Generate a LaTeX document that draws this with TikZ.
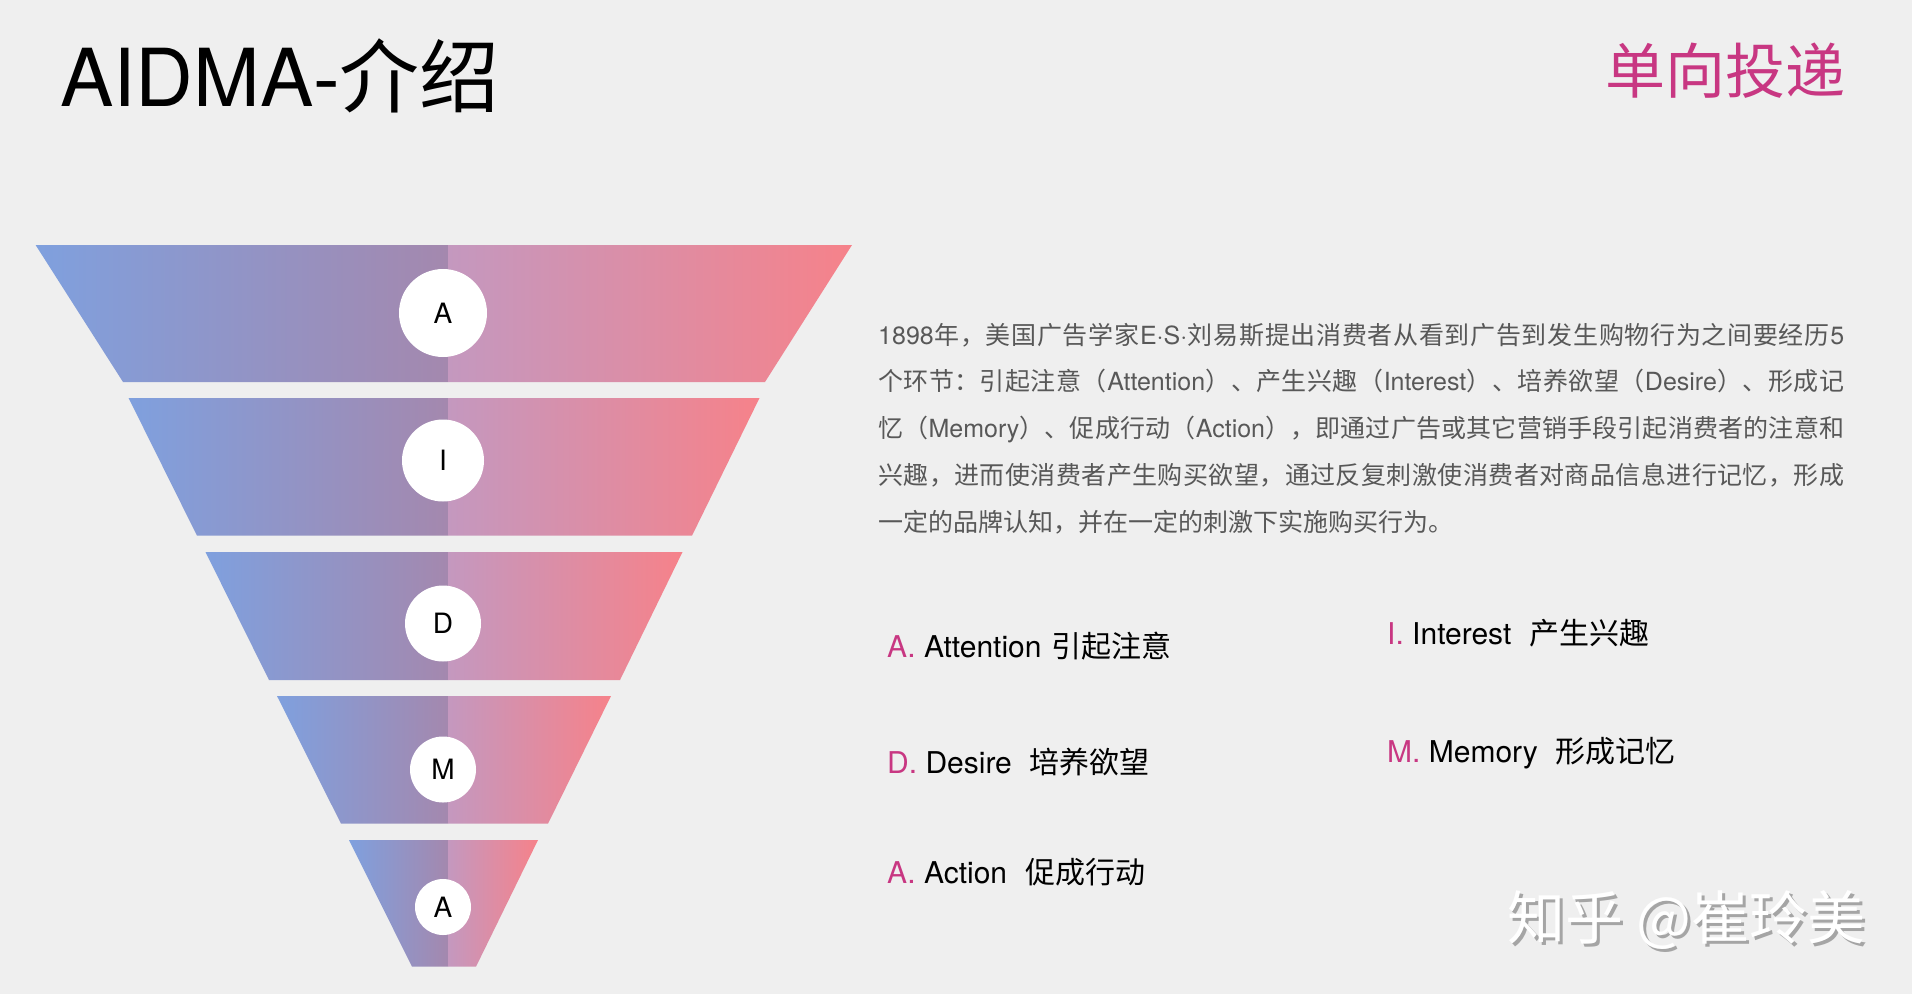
\documentclass[tikz,border=0pt]{standalone}
\usepackage{fontspec}
\setmainfont{TeX Gyre Heros}
\newfontfamily\cjk{Noto Sans CJK SC}
\newfontfamily\lat{TeX Gyre Heros}
\definecolor{bg}{RGB}{239,239,239}
\definecolor{bluel}{RGB}{127,160,222}
\definecolor{mauved}{RGB}{164,136,174}
\definecolor{mauvel}{RGB}{196,152,191}
\definecolor{coral}{RGB}{246,130,138}
\definecolor{accent}{RGB}{200,55,130}
\definecolor{paragray}{RGB}{88,88,88}
\definecolor{shadowgray}{RGB}{165,165,165}
\makeatletter
\def\spr@end{\spr@end}
\def\spreadchars#1{\spr@#1\spr@end}
\def\spr@#1{\ifx\spr@end#1\else#1\hskip0pt plus 1fil\expandafter\spr@\fi}
\makeatother
\newcommand{\funnelband}[6]{%
  \shade[left color=bluel,right color=mauved] (#3,#1) -- (448,#1) -- (448,#2) -- (#5,#2) -- cycle;
  \shade[left color=mauvel,right color=coral] (448,#1) -- (#4,#1) -- (#6,#2) -- (448,#2) -- cycle;}
\tikzset{
  circ/.style={circle,fill=white,inner sep=0pt,font=\fontsize{28}{28}\selectfont},
  paraline/.style={anchor=base west,inner sep=0pt,text=paragray,font=\cjk\fontsize{25}{30}\selectfont},
  lbl/.style={anchor=base west,inner sep=0pt,text=black,font=\fontsize{30}{30}\selectfont},
  wmark/.style={anchor=base west,inner sep=0pt,font=\cjk\fontsize{58}{58}\selectfont}
}
\begin{document}
\begin{tikzpicture}[x=1pt,y=-1pt]
\useasboundingbox (0,0) rectangle (1912,994);
\fill[bg] (0,0) rectangle (1912,994);
% title
\node[anchor=base west,inner sep=0pt,font=\fontsize{80}{80}\selectfont] (title) at (60,106) {AIDMA-{\cjk 介绍}};
\node[anchor=base east,inner sep=0pt,text=accent,font=\cjk\fontsize{60}{60}\selectfont] (sub) at (1846,93) {单向投递};
% funnel
\funnelband{245}{382}{35.6}{852}{123}{765}
\funnelband{398}{535.7}{128.6}{759.5}{197}{692}
\funnelband{552}{680}{205.5}{682.5}{269}{620}
\funnelband{696}{823.7}{277}{611}{341}{548}
\funnelband{840}{966.7}{349}{538}{412}{476}
\node[circ,minimum size=88pt] (c1) at (443,313) {A};
\node[circ,minimum size=82pt] (c2) at (443,460.5) {I};
\node[circ,minimum size=76pt] (c3) at (443,623.5) {D};
\node[circ,minimum size=66pt] (c4) at (443,769.5) {M};
\node[circ,minimum size=56pt] (c5) at (443,907) {A};
% paragraph
\node[paraline] (p1) at (878,344) {\hbox to 966pt{\spreadchars{{{\lat 1898}}年，美国广告学家{{\lat E·S·}}刘易斯提出消费者从看到广告到发生购物行为之间要经历{{\lat 5}}}\unskip}};
\node[paraline] (p2) at (878,390.8) {\hbox to 966pt{\spreadchars{个环节：引起注意（{{\lat Attention}}）、产生兴趣（{{\lat Interest}}）、培养欲望（{{\lat Desire}}）、形成记}\unskip}};
\node[paraline] (p3) at (878,437.6) {\hbox to 966pt{\spreadchars{忆（{{\lat Memory}}）、促成行动（{{\lat Action}}），即通过广告或其它营销手段引起消费者的注意和}\unskip}};
\node[paraline] (p4) at (878,484.4) {\hbox to 966pt{\spreadchars{兴趣，进而使消费者产生购买欲望，通过反复刺激使消费者对商品信息进行记忆，形成}\unskip}};
\node[paraline] (p5) at (878,531.2) {一定的品牌认知，并在一定的刺激下实施购买行为。};
% labels
\node[lbl] (la) at (887,657) {\textcolor{accent}{A.} Attention\hspace{10pt}{\cjk 引起注意}};
\node[lbl] (li) at (1387,644) {\textcolor{accent}{I.} Interest\hspace{18pt}{\cjk 产生兴趣}};
\node[lbl] (ld) at (887,773) {\textcolor{accent}{D.} Desire\hspace{18pt}{\cjk 培养欲望}};
\node[lbl] (lm) at (1387,762) {\textcolor{accent}{M.} Memory\hspace{18pt}{\cjk 形成记忆}};
\node[lbl] (lact) at (887,883) {\textcolor{accent}{A.} Action\hspace{18pt}{\cjk 促成行动}};
% watermark
\node[wmark,text=shadowgray] (wms) at (1510,942) {知乎 @崔玲美};
\node[wmark,text=white] (wm) at (1507,939) {知乎 @崔玲美};
\end{tikzpicture}
\end{document}
